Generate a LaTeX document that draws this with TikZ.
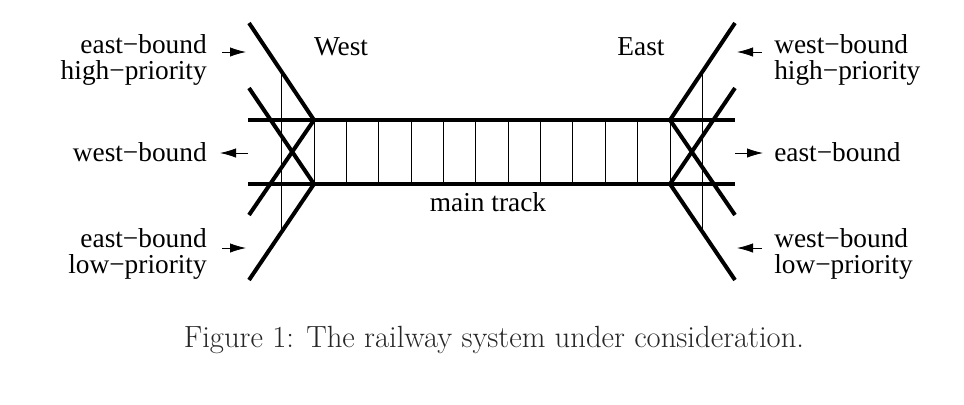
\documentclass[tikz,border=0pt]{standalone}
\usepackage{fontspec}
\newfontfamily\tms{Liberation Serif}
\usetikzlibrary{arrows.meta}
\begin{document}
\begin{tikzpicture}[x=0.75pt,y=-0.75pt,
  rail/.style={line width=3pt},
  thin/.style={line width=0.6pt},
  arr/.style={line width=0.6pt,-{Latex[length=12pt,width=7pt]}},
  lbl/.style={font=\tms\fontsize{20.5}{19.5}\selectfont,inner sep=0pt}]
\useasboundingbox (0,0) rectangle (964,404);
% coordinates
\coordinate (WT) at (314,120); \coordinate (WB) at (314,184);
\coordinate (ET) at (670,120); \coordinate (EB) at (670,184);
\coordinate (wa) at (249,23); \coordinate (wb) at (249,88);
\coordinate (wc) at (249,215); \coordinate (wd) at (249,280);
\coordinate (ea) at (735,23); \coordinate (eb) at (735,88);
\coordinate (ec) at (735,215); \coordinate (ed) at (735,280);
% ladder
\foreach \i in {0,...,11} \draw[thin] (314+\i*32.36,120) -- (314+\i*32.36,184);
\draw[thin] (281,72) -- (281,232);
\draw[thin] (702,72) -- (702,232);
% rails
\draw[rail] (248,120) -- (735,120);
\draw[rail] (248,184) -- (735,184);
\draw[rail] (wa) -- (WT); \draw[rail] (wb) -- (WB);
\draw[rail] (wc) -- (WT); \draw[rail] (wd) -- (WB);
\draw[rail] (ea) -- (ET); \draw[rail] (eb) -- (EB);
\draw[rail] (ec) -- (ET); \draw[rail] (ed) -- (EB);
% labels
\node[lbl] (west) at (341,47) {West};
\node[lbl] (east) at (641,47) {East};
\node[lbl] (main) at (488,202) {main track};
\node[lbl,anchor=east,align=right] (l1) at (207,60) {east\textminus bound\\high\textminus priority};
\node[lbl,anchor=east] (l2) at (207,152) {west\textminus bound};
\node[lbl,anchor=east,align=right] (l3) at (207,254) {east\textminus bound\\low\textminus priority};
\node[lbl,anchor=west,align=left] (r1) at (774,60) {west\textminus bound\\high\textminus priority};
\node[lbl,anchor=west] (r2) at (774,152) {east\textminus bound};
\node[lbl,anchor=west,align=left] (r3) at (774,254) {west\textminus bound\\low\textminus priority};
% arrows
\coordinate (a1) at (222,52); \coordinate (b1) at (246,52);
\coordinate (a2) at (248,153); \coordinate (b2) at (220,153);
\coordinate (a3) at (222,248); \coordinate (b3) at (246,248);
\coordinate (a4) at (762,52); \coordinate (b4) at (737,52);
\coordinate (a5) at (735,153); \coordinate (b5) at (763,153);
\coordinate (a6) at (762,248); \coordinate (b6) at (737,248);
\foreach \i in {1,...,6} \draw[arr] (a\i) -- (b\i);
\node[font=\fontsize{23}{26}\selectfont,text=black!85] (cap) at (494,340) {Figure 1: The railway system under consideration.};
\end{tikzpicture}
\end{document}
